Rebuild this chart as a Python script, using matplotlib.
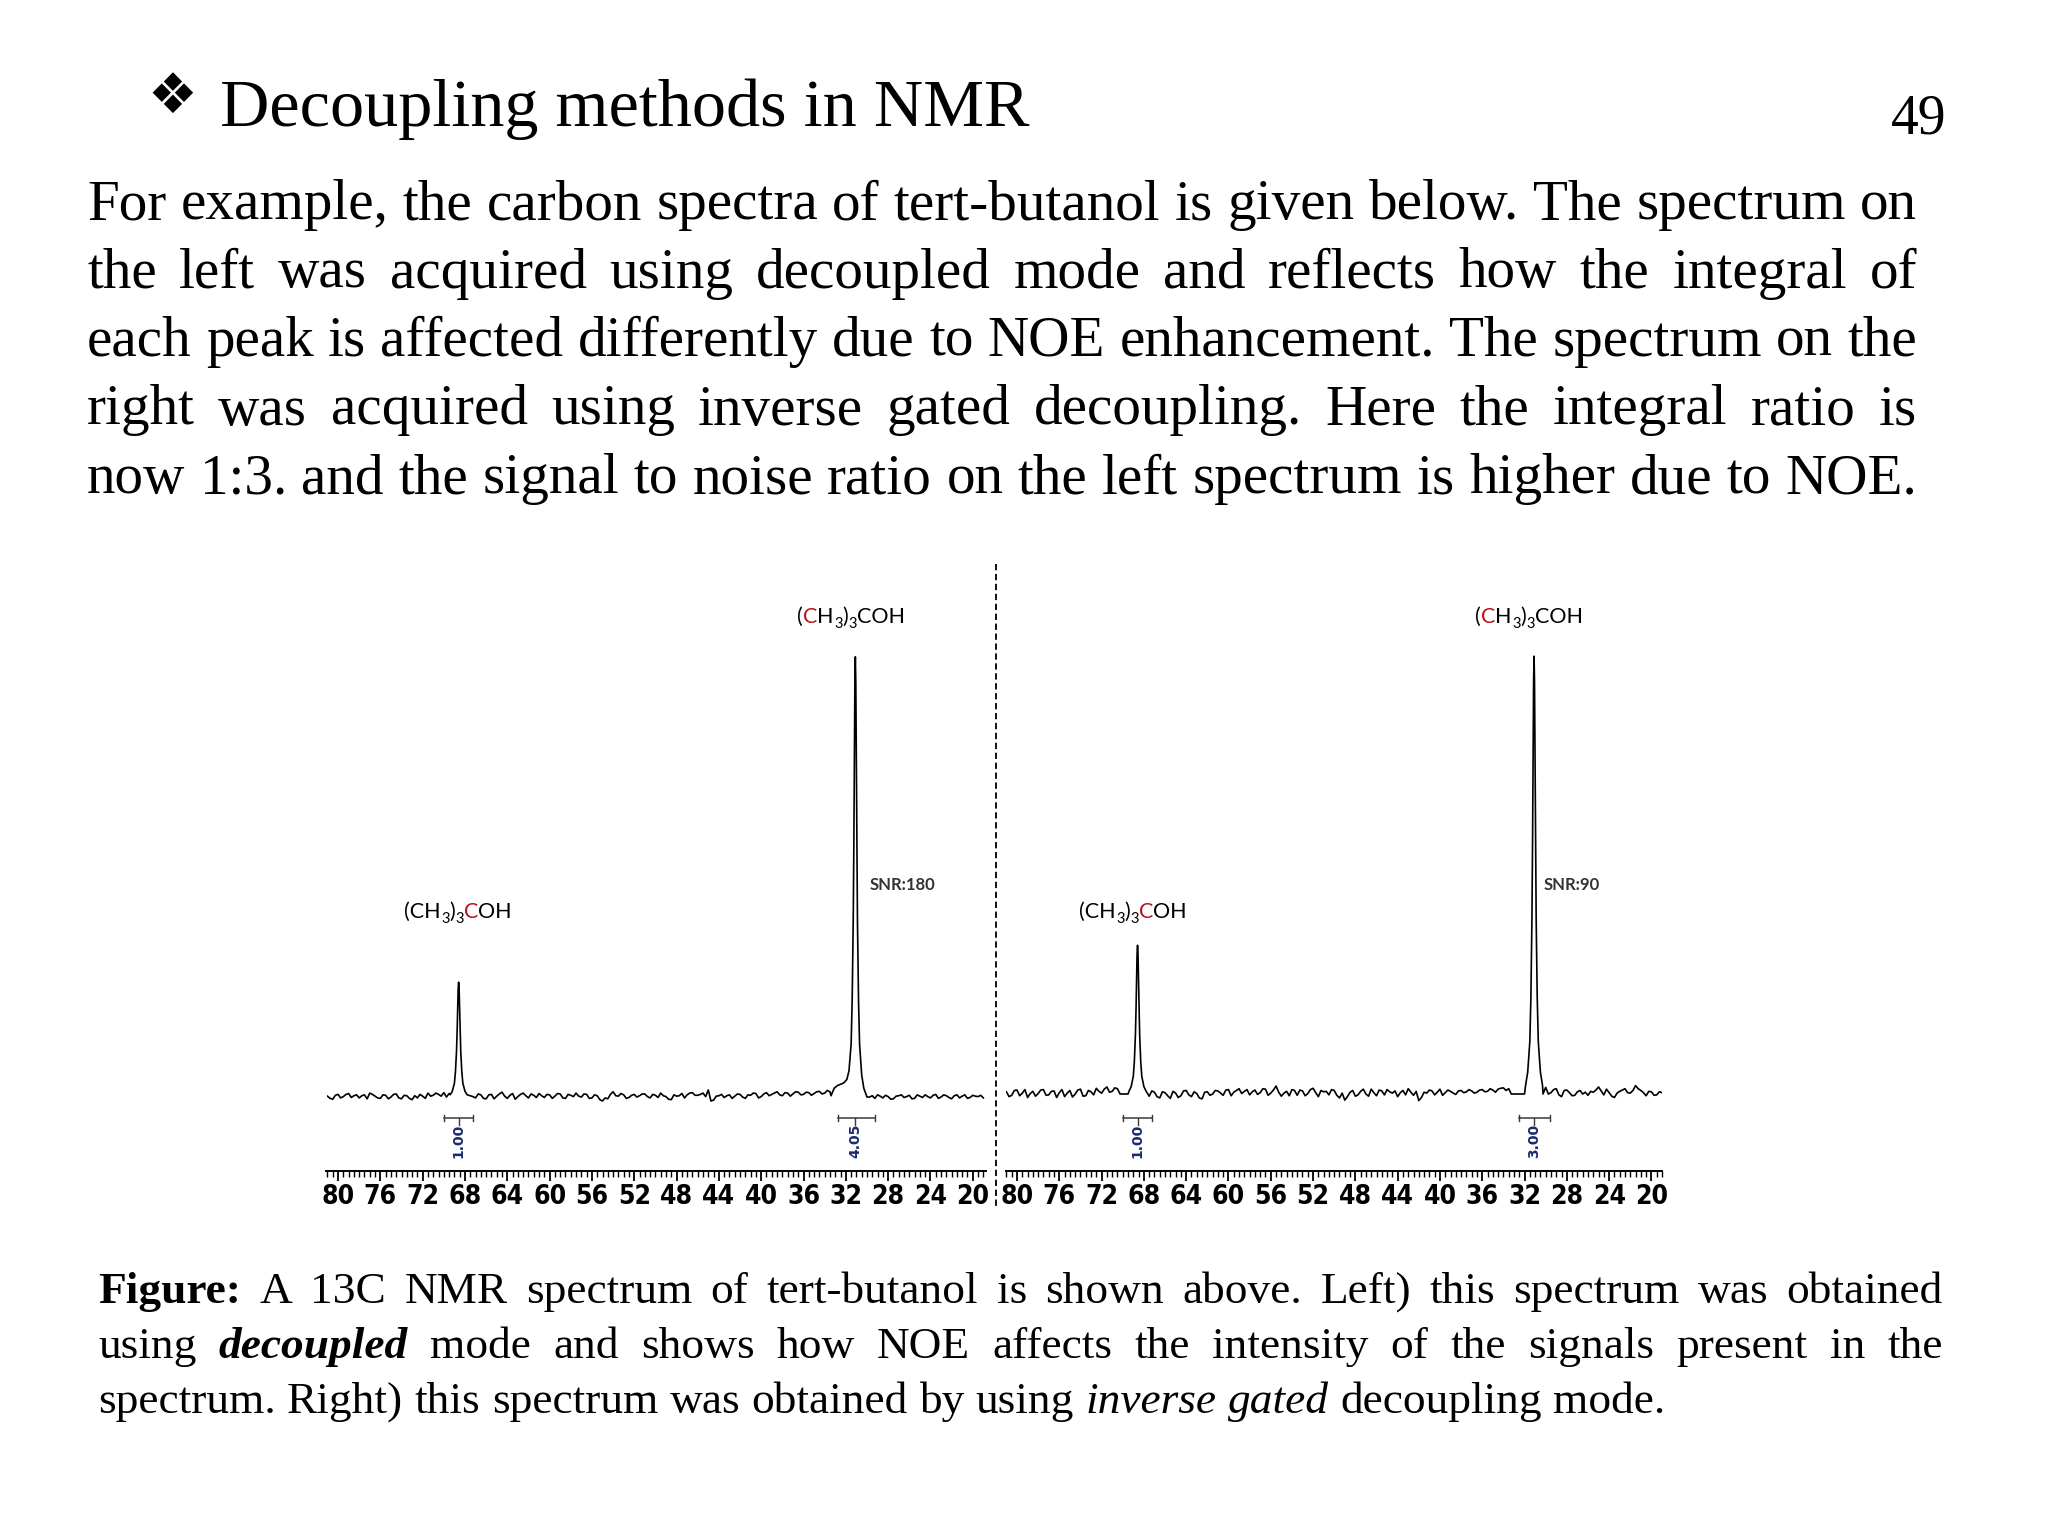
import matplotlib
matplotlib.use('Agg')
import matplotlib.pyplot as plt
from matplotlib import font_manager as fm
import numpy as np

W, H, DPI = 2048, 1536, 100

# ---------------- text content ----------------
title_text = "Decoupling methods in NMR"
page_number = "49"
body_lines = [
    "For example, the carbon spectra of tert-butanol is given below. The spectrum on",
    "the left was acquired using decoupled mode and reflects how the integral of",
    "each peak is affected differently due to NOE enhancement. The spectrum on the",
    "right was acquired using inverse gated decoupling. Here the integral ratio is",
    "now 1:3. and the signal to noise ratio on the left spectrum is higher due to NOE.",
]
caption_runs = [
    [("Figure:", "bold", "normal"),
     ("A 13C NMR spectrum of tert-butanol is shown above. Left) this spectrum was obtained", "normal", "normal")],
    [("using", "normal", "normal"), ("decoupled", "bold", "italic"),
     ("mode and shows how NOE affects the intensity of the signals present in the", "normal", "normal")],
    [("spectrum. Right) this spectrum was obtained by using", "normal", "normal"),
     ("inverse gated", "normal", "italic"), ("decoupling mode.", "normal", "normal")],
]

# ---------------- spectrum data ----------------
tick_values = [80, 76, 72, 68, 64, 60, 56, 52, 48, 44, 40, 36, 32, 28, 24, 20]
noise_start, noise_step = 81.0, 0.25

# baseline values at 81.0, 80.5, ... 19.0
left_noise = [
    0.2, -0.5, 0.6, 0.1, 0.8, 0.3, -0.2, 0.5, 0.9, 0.2,
    -0.3, 0.4, 0.0, 0.7, -0.4, 0.3, -0.6, -0.2, 0.2, 0.9,
    0.4, 0.6, 1.0, 0.8, 0.0, 0.0, 0.0, 0.3, -0.2, 0.5,
    -0.4, 0.6, 0.2, 1.1, -0.3, 0.8, 0.1, 0.9, -0.2, 0.4,
    0.8, -0.1, 0.5, 0.2, 0.7, -0.3, 0.4, 0.9, 0.0, 0.6,
    -0.2, 0.3, -0.9, -0.4, 1.2, 0.2, 0.5, -0.1, 0.6, 0.3,
    0.7, -0.2, 0.4, 0.9, 0.1, -0.6, 0.2, 0.8, 0.5, 1.0,
    0.4, 0.9, 1.6, -0.7, 0.3, -0.1, 0.5, 0.2, 0.6, -0.3,
    0.4, 0.8, 0.1, 1.0, 0.6, 1.2, 0.3, 0.9, 0.7, 1.1,
    0.6, 1.0, 0.8, 1.3, 0.9, 1.2, 0.0, 0.0, 0.0, 0.0,
    0.0, 0.0, 0.0, 0.3, 0.5, -0.2, 0.1, -0.4, 0.3, -0.1,
    0.4, -0.3, 0.2, 0.5, -0.2, 0.6, 0.0, 0.3, -0.4, 0.5,
    0.2, -0.3, 0.4, 0.1, -0.2,
]
# baseline values at 80.75, 80.25, ... 19.25
left_noise_mid = [
    -0.3, 0.4, -0.2, 0.6, -0.1, 0.5, 0.3, -0.4, 0.6, -0.2,
    0.5, -0.4, 0.6, -0.2, 0.4, -0.3, 0.3, 0.6, -0.3, 0.2,
    0.9, 0.2, 0.0, 0.0, 0.0, 0.0, 0.6, 0.1, 0.7, -0.3,
    0.5, -0.4, 0.7, 0.2, 0.4, -0.5, 0.6, 0.3, 0.7, -0.1,
    0.3, 0.6, -0.3, 0.8, -0.2, 0.6, 0.1, 0.2, 0.7, -0.3,
    0.5, -0.6, -0.2, 0.6, 0.3, 0.8, -0.3, 0.4, 0.0, 0.7,
    0.1, 0.6, -0.1, 0.3, -0.5, 0.5, 0.3, -0.2, 0.9, 0.4,
    0.6, 0.1, -0.9, 0.2, 0.6, 0.3, -0.3, 0.7, 0.0, 0.5,
    0.9, -0.2, 0.7, 0.3, 0.9, 0.5, 1.0, 0.2, 1.2, 0.5,
    1.1, 0.4, 1.2, 0.7, 1.5, 0.0, 0.0, 0.0, 0.0, 0.0,
    0.0, 0.0, 0.0, -0.3, 0.2, 0.4, -0.5, 0.2, 0.5, 0.1,
    -0.4, 0.5, -0.1, 0.1, 0.4, -0.3, 0.5, -0.1, 0.3, -0.2,
    0.5, -0.1, 0.2, 0.4,
]
right_noise = [
    0.5, -0.3, 0.9, 0.2, -0.8, 0.6, 0.1, 1.0, -0.2, 0.7,
    0.3, -0.6, 0.8, 0.0, 1.1, -0.4, 0.5, 1.3, 0.2, 1.6,
    0.6, 1.2, 0.0, 0.0, 0.0, 0.0, 0.2, -0.5, 0.4, -0.9,
    0.3, -1.0, 0.2, -0.4, 0.8, -0.6, 0.1, -1.1, 0.5, 0.0,
    0.7, -0.3, 1.0, 0.4, 1.2, 0.6, -0.2, 0.9, 0.3, 1.1,
    0.2, 1.8, -0.5, 0.6, 1.0, -0.3, 0.7, 0.1, 1.3, -0.6,
    0.5, -0.2, 0.8, -0.9, -1.4, 0.4, -0.5, 0.6, 0.0, 1.1,
    -0.4, 0.7, 1.0, 0.2, -0.6, 0.8, 1.2, -0.3, -1.5, 0.4,
    0.9, -0.2, 1.1, 0.3, 0.6, -0.1, 0.8, 0.5, 0.7, 0.4,
    1.0, 0.6, 0.9, 1.1, 1.4, 1.2, 0.0, 0.0, 0.0, 0.0,
    0.0, 0.0, 1.5, 0.3, 1.2, -0.6, 0.9, -0.4, 0.5, 0.0,
    -0.3, 0.4, 1.6, -0.2, 0.3, -0.8, 0.6, 1.2, 0.2, 1.9,
    0.8, -0.4, 0.5, -0.2, 0.3,
]
right_noise_mid = [
    -0.6, 0.8, -0.4, 1.0, 0.1, -0.5, 0.9, -0.3, 0.6, -0.8,
    1.0, 0.2, -0.7, 0.9, -0.5, 0.8, -0.2, 0.6, 1.1, 0.4,
    1.4, 0.0, 0.0, 0.0, 0.0, 0.0, -0.3, 0.7, -0.6, 0.5,
    -0.4, 0.6, -0.8, 0.7, -0.2, 0.5, -0.9, 0.4, -0.3, 0.8,
    0.2, 0.9, -0.4, 0.8, 0.1, 1.0, 0.5, -0.1, 1.2, -0.3,
    0.9, 0.4, 0.2, -0.4, 0.8, 0.9, -0.4, 1.0, 0.3, 0.8,
    0.6, 1.0, -0.3, 0.2, -0.6, 0.8, -0.2, 1.1, -0.5, 0.3,
    0.9, -0.2, 0.5, 0.7, 0.3, -0.2, 0.4, 0.6, -0.8, 0.2,
    0.7, 0.4, -0.3, 0.9, 0.2, 0.7, 0.3, 1.0, 0.2, 0.9,
    0.5, 1.2, 0.4, 1.3, 0.8, 0.0, 0.0, 0.0, 0.0, 0.0,
    0.0, 0.0, 0.0, 1.0, -0.2, 0.8, 0.3, -0.3, 0.8, 0.4,
    0.6, 0.9, 0.7, 1.1, -0.5, 0.2, 0.9, 0.3, 0.8, 1.2,
    0.3, 0.6, -0.3, 0.5,
]

# shared peak shape (ppm offset, fraction of height)
peak_offsets = [-0.8, -0.6, -0.4, -0.3, -0.2, -0.14, -0.09, -0.045, 0.0,
                0.045, 0.09, 0.14, 0.2, 0.3, 0.4, 0.6, 0.8]
peak_shape = [0.02, 0.05, 0.12, 0.22, 0.40, 0.58, 0.78, 0.94, 1.0,
              0.94, 0.78, 0.58, 0.40, 0.22, 0.12, 0.05, 0.02]

left_peak_ppm = [68.6]
left_peak_height = [26.1]
# left CH3 peak with its shoulder, traced explicitly
left_big_ppm = [33.4, 33.1, 32.8, 32.5, 32.2, 31.9, 31.7, 31.5, 31.4, 31.3, 31.24,
                31.19, 31.145, 31.1, 31.055, 31.01, 30.96, 30.9, 30.8, 30.7, 30.5, 30.3]
left_big_int = [0.3, 2.0, 2.6, 2.9, 3.2, 4.0, 6.0, 12, 22, 40, 58,
                78, 94, 100, 94, 78, 58, 40, 22, 12, 5, 2]

right_peak_ppm = [68.6, 31.1]
right_peak_height = [33.8, 99.5]

left_integrals = [(70.0, 67.25, 68.6, "1.00"), (32.75, 29.25, 31.1, "4.05")]
right_integrals = [(70.0, 67.25, 68.6, "1.00"), (32.55, 29.55, 31.1, "3.00")]
left_snr = "SNR:180"
right_snr = "SNR:90"

# ---------------- figure ----------------
fig = plt.figure(figsize=(W / DPI, H / DPI), dpi=DPI)
bg = fig.add_axes([0, 0, 1, 1], zorder=0)
bg.set_xlim(0, W)
bg.set_ylim(H, 0)
bg.axis('off')
renderer = fig.canvas.get_renderer()

SERIF = ['Liberation Serif', 'DejaVu Serif']


def text_width(s, **kw):
    t = bg.text(0, 0, s, **kw)
    w = t.get_window_extent(renderer).width
    t.remove()
    return w


def draw_words(words, x0, x1, y, size, justify=True):
    ws = [text_width(w, fontsize=size, family=SERIF, fontweight=wt, fontstyle=st)
          for (w, wt, st) in words]
    if justify and len(words) > 1:
        gap = (x1 - x0 - sum(ws)) / (len(words) - 1)
    else:
        gap = text_width("a a", fontsize=size, family=SERIF) - text_width("aa", fontsize=size, family=SERIF)
    x = x0
    for (w, wt, st), wd in zip(words, ws):
        bg.text(x, y, w, fontsize=size, family=SERIF, fontweight=wt, fontstyle=st,
                ha='left', va='baseline', color='black')
        x += wd + gap


def runs_to_words(runs):
    out = []
    for text, wt, st in runs:
        for w in text.split():
            out.append((w, wt, st))
    return out


# title and bullet
bg.text(172, 113, "\u2756", fontsize=40, family=['DejaVu Sans'], ha='center', va='baseline', color='black')
title_size = 40 * 808 / text_width(title_text, fontsize=40, family=SERIF)
bg.text(220, 126, title_text, fontsize=title_size, family=SERIF, ha='left', va='baseline')
bg.text(1946, 133, page_number, fontsize=40, family=SERIF, ha='right', va='baseline')

# body paragraph
body_size = 30 * 1830 / text_width(body_lines[0], fontsize=30, family=SERIF)
for i, line in enumerate(body_lines):
    words = [(w, 'normal', 'normal') for w in line.split()]
    draw_words(words, 87, 1917, 219 + 68.5 * i, body_size, justify=True)

# caption
cap_words = [runs_to_words(r) for r in caption_runs]
sp30 = text_width("a a", fontsize=30, family=SERIF) - text_width("aa", fontsize=30, family=SERIF)
nat = sum(text_width(w, fontsize=30, family=SERIF, fontweight=wt, fontstyle=st)
          for (w, wt, st) in cap_words[2]) + sp30 * (len(cap_words[2]) - 1)
cap_size = 30 * 1566 / nat
for i, words in enumerate(cap_words):
    draw_words(words, 98, 1943, 1303 + 55 * i, cap_size, justify=(i < 2))

# dashed separator
bg.plot([996, 996], [564, 1208], color='black', lw=1.3, ls=(0, (3.5, 2.0)))


# ---------------- spectrum panels ----------------
def px_axes(x0, x1, ytop, ybot):
    a = fig.add_axes([x0 / W, 1 - ybot / H, (x1 - x0) / W, (ybot - ytop) / H], zorder=1)
    a.patch.set_alpha(0)
    return a


def interleave(main, mid):
    out = []
    for i, v in enumerate(main):
        out.append(v)
        if i < len(mid):
            out.append(mid[i])
    return out


def build_curve(noise, p_ppm, p_h, extra_ppm=None, extra_int=None):
    grid = noise_start - noise_step * np.arange(len(noise))
    vals = np.array(noise, dtype=float)
    keep = np.ones(len(grid), bool)
    xs, ys = [], []
    for c, h in zip(p_ppm, p_h):
        keep &= np.abs(grid - c) >= 0.85
        xs.extend([c + o for o in peak_offsets])
        ys.extend([h * s for s in peak_shape])
    if extra_ppm is not None:
        keep &= ~((grid >= min(extra_ppm) - 0.05) & (grid <= max(extra_ppm) + 0.05))
        xs.extend(extra_ppm)
        ys.extend(extra_int)
    x = np.concatenate([grid[keep], xs])
    y = np.concatenate([vals[keep], ys])
    order = np.argsort(-x)
    return x[order], y[order]


# narrow bold font for the ppm scale
_names = {f.name for f in fm.fontManager.ttflist}
if 'Liberation Sans Narrow' in _names:
    tick_fp = fm.FontProperties(family='Liberation Sans Narrow', weight='bold', size=20)
else:
    _cand = [f.fname for f in fm.fontManager.ttflist
             if 'condensed' in f.fname.lower() and 'bold' in f.fname.lower() and 'oblique' not in f.fname.lower()
             and 'sans' in f.fname.lower() and 'mono' not in f.fname.lower()]
    if _cand:
        tick_fp = fm.FontProperties(fname=_cand[0], size=19)
    else:
        tick_fp = fm.FontProperties(family='Liberation Sans', weight='bold', size=16.5)


def style_panel(ax, xlim, ylim):
    ax.set_xlim(*xlim)
    ax.set_ylim(*ylim)
    for s in ('top', 'left', 'right'):
        ax.spines[s].set_visible(False)
    ax.spines['bottom'].set_linewidth(1.4)
    ax.yaxis.set_visible(False)
    ax.set_xticks(tick_values)
    ax.set_xticks(np.arange(81.0, 18.9, -0.5), minor=True)
    ax.tick_params(axis='x', which='major', length=7, width=1.3, direction='out', pad=2)
    ax.tick_params(axis='x', which='minor', length=4, width=1.0, direction='out')
    for lb in ax.get_xticklabels():
        lb.set_fontproperties(tick_fp)


def draw_integrals(ax, integrals):
    tr = ax.get_xaxis_transform()
    yb = 0.0867
    for a, b, c, lab in integrals:
        ax.plot([a, b], [yb, yb], transform=tr, color='#3a3a3a', lw=1.1, clip_on=False)
        for e in (a, b):
            ax.plot([e, e], [yb - 0.005, yb + 0.005], transform=tr, color='#3a3a3a', lw=1.0, clip_on=False)
        ax.plot([c, c], [yb, yb - 0.012], transform=tr, color='#3a3a3a', lw=1.0, clip_on=False)
        ax.text(c, 0.049, lab, transform=tr, rotation=90, ha='center', va='center',
                fontsize=10, fontweight='bold', family=['DejaVu Sans'], color='#1c2a6e')


axL = px_axes(326.5, 986, 560, 1171)
style_panel(axL, (81.09, 18.75), (-16.8, 122.0))
xL, yL = build_curve(interleave(left_noise, left_noise_mid), left_peak_ppm, left_peak_height,
                     left_big_ppm, left_big_int)
axL.plot(xL, yL, color='black', lw=1.2)
draw_integrals(axL, left_integrals)

axR = px_axes(1006, 1662, 560, 1171)
style_panel(axR, (81.04, 19.04), (-17.5, 121.36))
xR, yR = build_curve(interleave(right_noise, right_noise_mid), right_peak_ppm, right_peak_height)
axR.plot(xR, yR, color='black', lw=1.2)
draw_integrals(axR, right_integrals)

# ---------------- peak labels ----------------
LABFONT = ['Lato', 'DejaVu Sans']
RED = '#b5121b'


def rich(xc, yb, pieces, size):
    ws = [text_width(s, fontsize=size * (0.68 if sub else 1.0), family=LABFONT) for s, c, sub in pieces]
    x = xc - sum(ws) / 2
    for (s, c, sub), w in zip(pieces, ws):
        bg.text(x, yb + (5 if sub else 0), s, fontsize=size * (0.68 if sub else 1.0),
                family=LABFONT, color=c, ha='left', va='baseline', zorder=5)
        x += w


K = 'black'
big_label = [("(", K, False), ("C", RED, False), ("H", K, False), ("3", K, True),
             (")", K, False), ("3", K, True), ("COH", K, False)]
small_label = [("(CH", K, False), ("3", K, True), (")", K, False), ("3", K, True),
               ("C", RED, False), ("OH", K, False)]
LS = 15.5
rich(851, 623, big_label, LS)
rich(458, 918, small_label, LS)
rich(1529, 623, big_label, LS)
rich(1133, 918, small_label, LS)

bg.text(870, 890, left_snr, fontsize=12, fontweight='bold', family=LABFONT, color='#333333',
        ha='left', va='baseline')
bg.text(1544, 890, right_snr, fontsize=12, fontweight='bold', family=LABFONT, color='#333333',
        ha='left', va='baseline')

fig.savefig('out.png', dpi=DPI, facecolor='white')
